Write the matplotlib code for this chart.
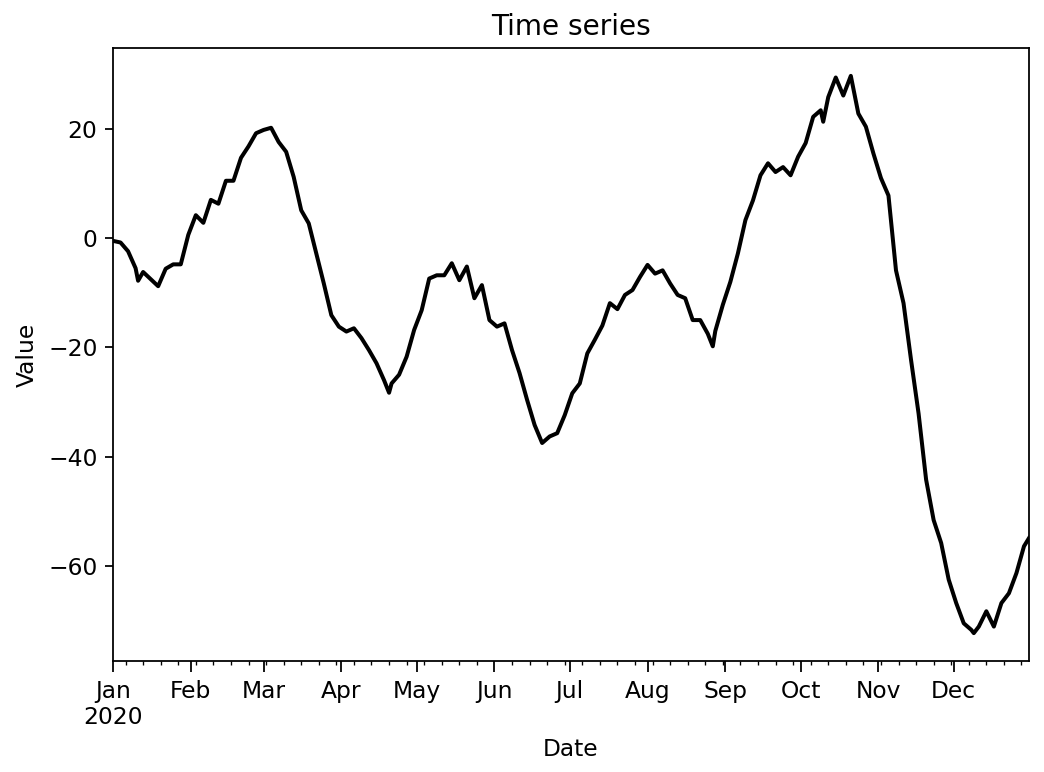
import matplotlib
matplotlib.use('Agg')
import matplotlib.pyplot as plt
import matplotlib.dates as mdates
import pandas as pd

# day offset from 2020-01-01 and value
day = [0, 3, 6, 9, 10, 12, 15, 18, 21, 24, 27, 30, 33, 36, 39, 42, 45, 48, 51, 54,
       57, 60, 63, 66, 69, 72, 75, 78, 81, 84, 87, 90, 93, 96, 99, 102, 105, 108, 110, 111,
       114, 117, 120, 123, 126, 129, 132, 135, 138, 141, 144, 147, 150, 153, 156, 159, 162, 165, 168, 171,
       174, 177, 180, 183, 186, 189, 192, 195, 198, 201, 204, 207, 210, 213, 216, 219, 222, 225, 228, 231,
       234, 237, 239, 240, 243, 246, 249, 252, 255, 258, 261, 264, 267, 270, 273, 276, 279, 282, 283, 285,
       288, 291, 294, 297, 300, 303, 306, 309, 312, 315, 318, 321, 324, 327, 330, 333, 336, 339, 342, 343,
       345, 348, 351, 354, 357, 360, 363, 365]
value = [-0.5, -0.8, -2.4, -5.5, -7.8, -6.2, -7.5, -8.8, -5.6, -4.8, -4.8, 0.6, 4.2, 2.8, 7.0, 6.3, 10.5, 10.5, 14.7, 16.8,
         19.2, 19.8, 20.2, 17.6, 15.8, 11.2, 5.1, 2.7, -2.8, -8.3, -14.1, -16.2, -17.1, -16.5, -18.3, -20.5, -22.9, -26.0, -28.3, -26.6,
         -25.0, -21.7, -16.8, -13.2, -7.4, -6.8, -6.8, -4.6, -7.7, -5.2, -11.0, -8.6, -15.0, -16.2, -15.6, -20.5, -24.7, -29.6, -34.2, -37.5,
         -36.3, -35.7, -32.4, -28.4, -26.6, -21.1, -18.6, -16.0, -11.9, -13.0, -10.4, -9.5, -7.1, -4.9, -6.5, -5.9, -8.3, -10.4, -11.0, -15.0,
         -15.0, -17.5, -19.8, -17.0, -12.2, -8.0, -2.8, 3.3, 6.9, 11.5, 13.7, 12.1, 13.0, 11.5, 14.9, 17.4, 22.2, 23.4, 21.3, 25.8,
         29.4, 26.1, 29.7, 22.8, 20.4, 15.5, 11.0, 7.8, -5.9, -11.9, -22.3, -32.1, -44.2, -51.6, -55.8, -62.5, -66.8, -70.5, -71.7, -72.3,
         -71.1, -68.3, -71.1, -66.8, -65.0, -61.3, -56.4, -54.9]

months = ['Jan\n2020', 'Feb', 'Mar', 'Apr', 'May', 'Jun', 'Jul', 'Aug', 'Sep', 'Oct', 'Nov', 'Dec']

dates = pd.Timestamp('2020-01-01') + pd.to_timedelta(day, unit='D')

plt.rcParams['font.size'] = 10.5

fig = plt.figure(figsize=(1044/160, 772/160), dpi=160)
ax = fig.add_axes([113/1044, 1-661/772, (1029-113)/1044, (661-48)/772])
ax.plot(dates, value, color='black', lw=1.8)

ax.set_xlim(pd.Timestamp('2020-01-01'), pd.Timestamp('2020-12-31'))
lo, hi = min(value), max(value)
pad = (hi - lo) * 0.05
ax.set_ylim(lo - pad, hi + pad)

ax.xaxis.set_major_locator(mdates.MonthLocator())
ax.set_xticklabels(months)
ax.xaxis.set_minor_locator(mdates.WeekdayLocator(byweekday=mdates.MO))
ax.tick_params(axis='x', which='major', length=5)
for lab in ax.get_xticklabels():
    lab.set_horizontalalignment('center')

ax.set_title('Time series')
ax.set_xlabel('Date')
ax.set_ylabel('Value')

fig.savefig('out.png', dpi=160)
